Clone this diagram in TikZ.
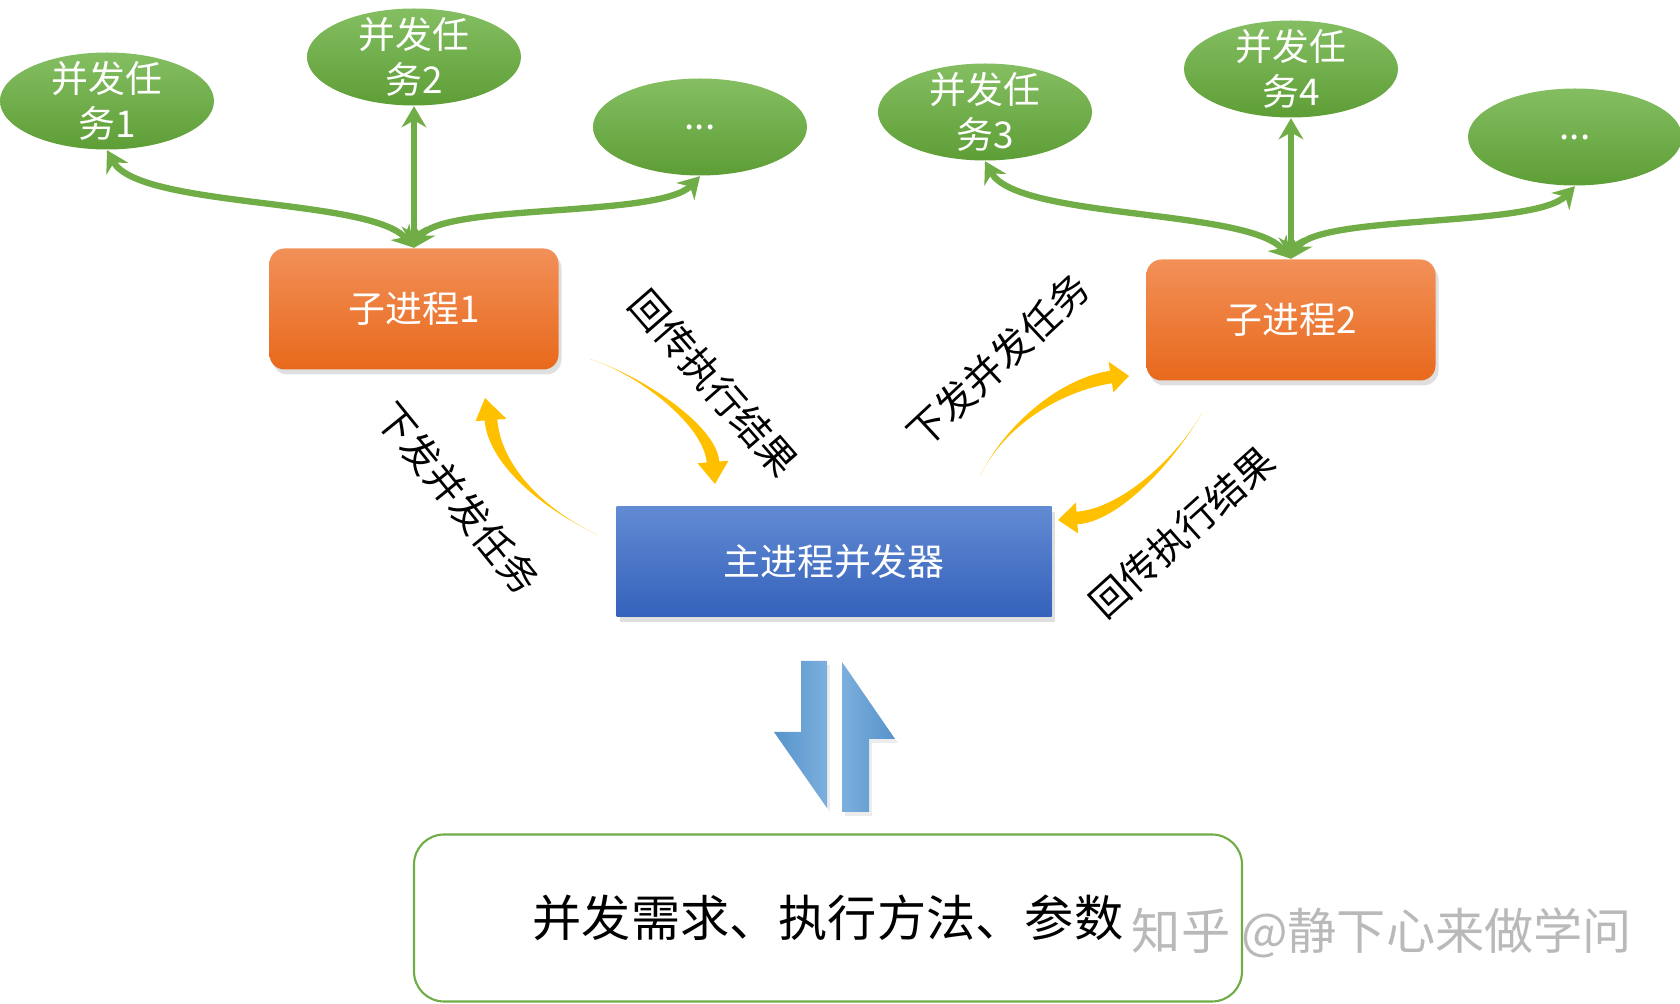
\documentclass[tikz,border=0pt]{standalone}
\usepackage{fontspec}
\setmainfont{Noto Sans CJK SC}
\usepackage{tikz}
\usetikzlibrary{arrows.meta,positioning,calc,shapes.geometric,shadows}
\definecolor{TaskTop}{HTML}{84BE62}
\definecolor{TaskBottom}{HTML}{5E9E36}
\definecolor{LinkGreen}{HTML}{70AD47}
\definecolor{ChildTop}{HTML}{F29058}
\definecolor{ChildBottom}{HTML}{E8691C}
\definecolor{MainTop}{HTML}{628BD3}
\definecolor{MainBottom}{HTML}{3461BB}
\definecolor{FlowYellow}{HTML}{FFC000}
\definecolor{SwapBlue}{HTML}{5B9BD5}
% tapered yellow arrow: tail, control near tail, control near head, head base, tip
\newcommand{\flowarrow}[5]{%
  \fill[FlowYellow] (#1) .. controls (#2) and ($(#3)!1.8pt!90:(#4)$) .. ($(#4)!1.8pt!-90:(#3)$)
    -- ($(#4)!4.4pt!-90:(#3)$) -- (#5) -- ($(#4)!4.4pt!90:(#3)$) -- ($(#4)!1.8pt!90:(#3)$)
    .. controls ($(#3)!1.8pt!-90:(#4)$) and (#2) .. cycle;}

\begin{document}
\begin{tikzpicture}[x=0.1mm,y=0.1mm,>={Stealth[length=6pt,width=7pt]},
  task/.style={ellipse,minimum width=21.4mm,minimum height=9.7mm,inner sep=0pt,
    top color=TaskTop,bottom color=TaskBottom,text=white,font=\fontsize{10.5}{12.8}\selectfont},
  tasktext/.style={align=center,text=white,font=\fontsize{10.5}{12.8}\selectfont,inner sep=0pt},
  child/.style={rectangle,rounded corners=1.5mm,minimum width=28.9mm,minimum height=12.1mm,
    top color=ChildTop,bottom color=ChildBottom,text=white,font=\fontsize{10.5}{13}\selectfont,
    drop shadow={shadow xshift=0.3mm,shadow yshift=-0.5mm,opacity=0.25}},
  master/.style={rectangle,minimum width=43.5mm,minimum height=11mm,
    top color=MainTop,bottom color=MainBottom,text=white,font=\fontsize{10.5}{13}\selectfont,
    drop shadow={shadow xshift=0.3mm,shadow yshift=-0.5mm,opacity=0.25}},
  need/.style={rectangle,rounded corners=3mm,draw=LinkGreen,line width=0.6pt,fill=white,
    minimum width=82.8mm,minimum height=16.7mm,font=\fontsize{14}{16}\selectfont},
  flowlabel/.style={font=\fontsize{11}{13}\selectfont,inner sep=0pt},
  link/.style={<->,LinkGreen,line width=1.8pt}]
  \useasboundingbox (0,0) rectangle (1680,-1004);

  % tasks
  \node[task,label={[tasktext]center:并发任\\务1}] (t1) at (107,-101) {};
  \node[task,label={[tasktext]center:并发任\\务2}] (t2) at (414,-57) {};
  \node[task] (t3) at (700,-127) {...};
  \node[task,label={[tasktext]center:并发任\\务3}] (t4) at (985,-112) {};
  \node[task,label={[tasktext]center:并发任\\务4}] (t5) at (1291,-69) {};
  \node[task] (t6) at (1575,-137) {...};

  % processes
  \node[child] (p1) at (414,-309) {子进程1};
  \node[child] (p2) at (1291,-320) {子进程2};
  \node[master] (main) at (834,-562) {主进程并发器};
  \node[need] (req) at (828,-918) {并发需求、执行方法、参数};

  % links to tasks
  \draw[link] (p1.north) .. controls +(-44,50) and +(32,-58) .. (t1.south);
  \draw[link] (p1.north) -- (t2.south);
  \draw[link] (p1.north) .. controls +(26,45) and +(-40,-42) .. (t3.south);
  \draw[link] (p2.north) .. controls +(-44,50) and +(32,-58) .. (t4.south);
  \draw[link] (p2.north) -- (t5.south);
  \draw[link] (p2.north) .. controls +(26,45) and +(-40,-42) .. (t6.south);

  % dispatch and return
  \coordinate (give1-tail) at (598,-535);
  \coordinate (give1-tip) at (485,-398);
  \coordinate (back1-tail) at (590,-359);
  \coordinate (back1-tip) at (715,-484);
  \coordinate (give2-tail) at (980,-476);
  \coordinate (give2-tip) at (1129,-376);
  \coordinate (back2-tail) at (1202,-413);
  \coordinate (back2-tip) at (1058,-520);
  \flowarrow{give1-tail}{535,-505}{494,-460}{491,-420}{give1-tip}
  \flowarrow{back1-tail}{640,-375}{710,-425}{713,-462}{back1-tip}
  \flowarrow{give2-tail}{1005,-425}{1060,-385}{1111,-377}{give2-tip}
  \flowarrow{back2-tail}{1175,-460}{1120,-515}{1077,-518}{back2-tip}

  \node[flowlabel,rotate=-49] (back1-text) at (714,-383) {回传执行结果};
  \node[flowlabel,rotate=-51] (give1-text) at (458,-498) {下发并发任务};
  \node[flowlabel,rotate=43] (give2-text) at (998,-361) {下发并发任务};
  \node[flowlabel,rotate=42] (back2-text) at (1182,-532) {回传执行结果};

  % swap arrows
  \shade[left color=SwapBlue!95!black,right color=SwapBlue!80!white,
    drop shadow={shadow xshift=0.3mm,shadow yshift=-0.4mm,opacity=0.15}]
    (801,-661) -- (827,-661) -- (827,-808) -- (774,-732) -- (801,-732) -- cycle;
  \shade[left color=SwapBlue!80!white,right color=SwapBlue!95!black,
    drop shadow={shadow xshift=0.3mm,shadow yshift=-0.4mm,opacity=0.15}]
    (842,-662) -- (842,-812) -- (869,-812) -- (869,-739) -- (895,-739) -- cycle;

  \node[text=gray!55,font=\fontsize{14}{16}\selectfont] (mark) at (1382,-933) {知乎 @静下心来做学问};
\end{tikzpicture}
\end{document}
